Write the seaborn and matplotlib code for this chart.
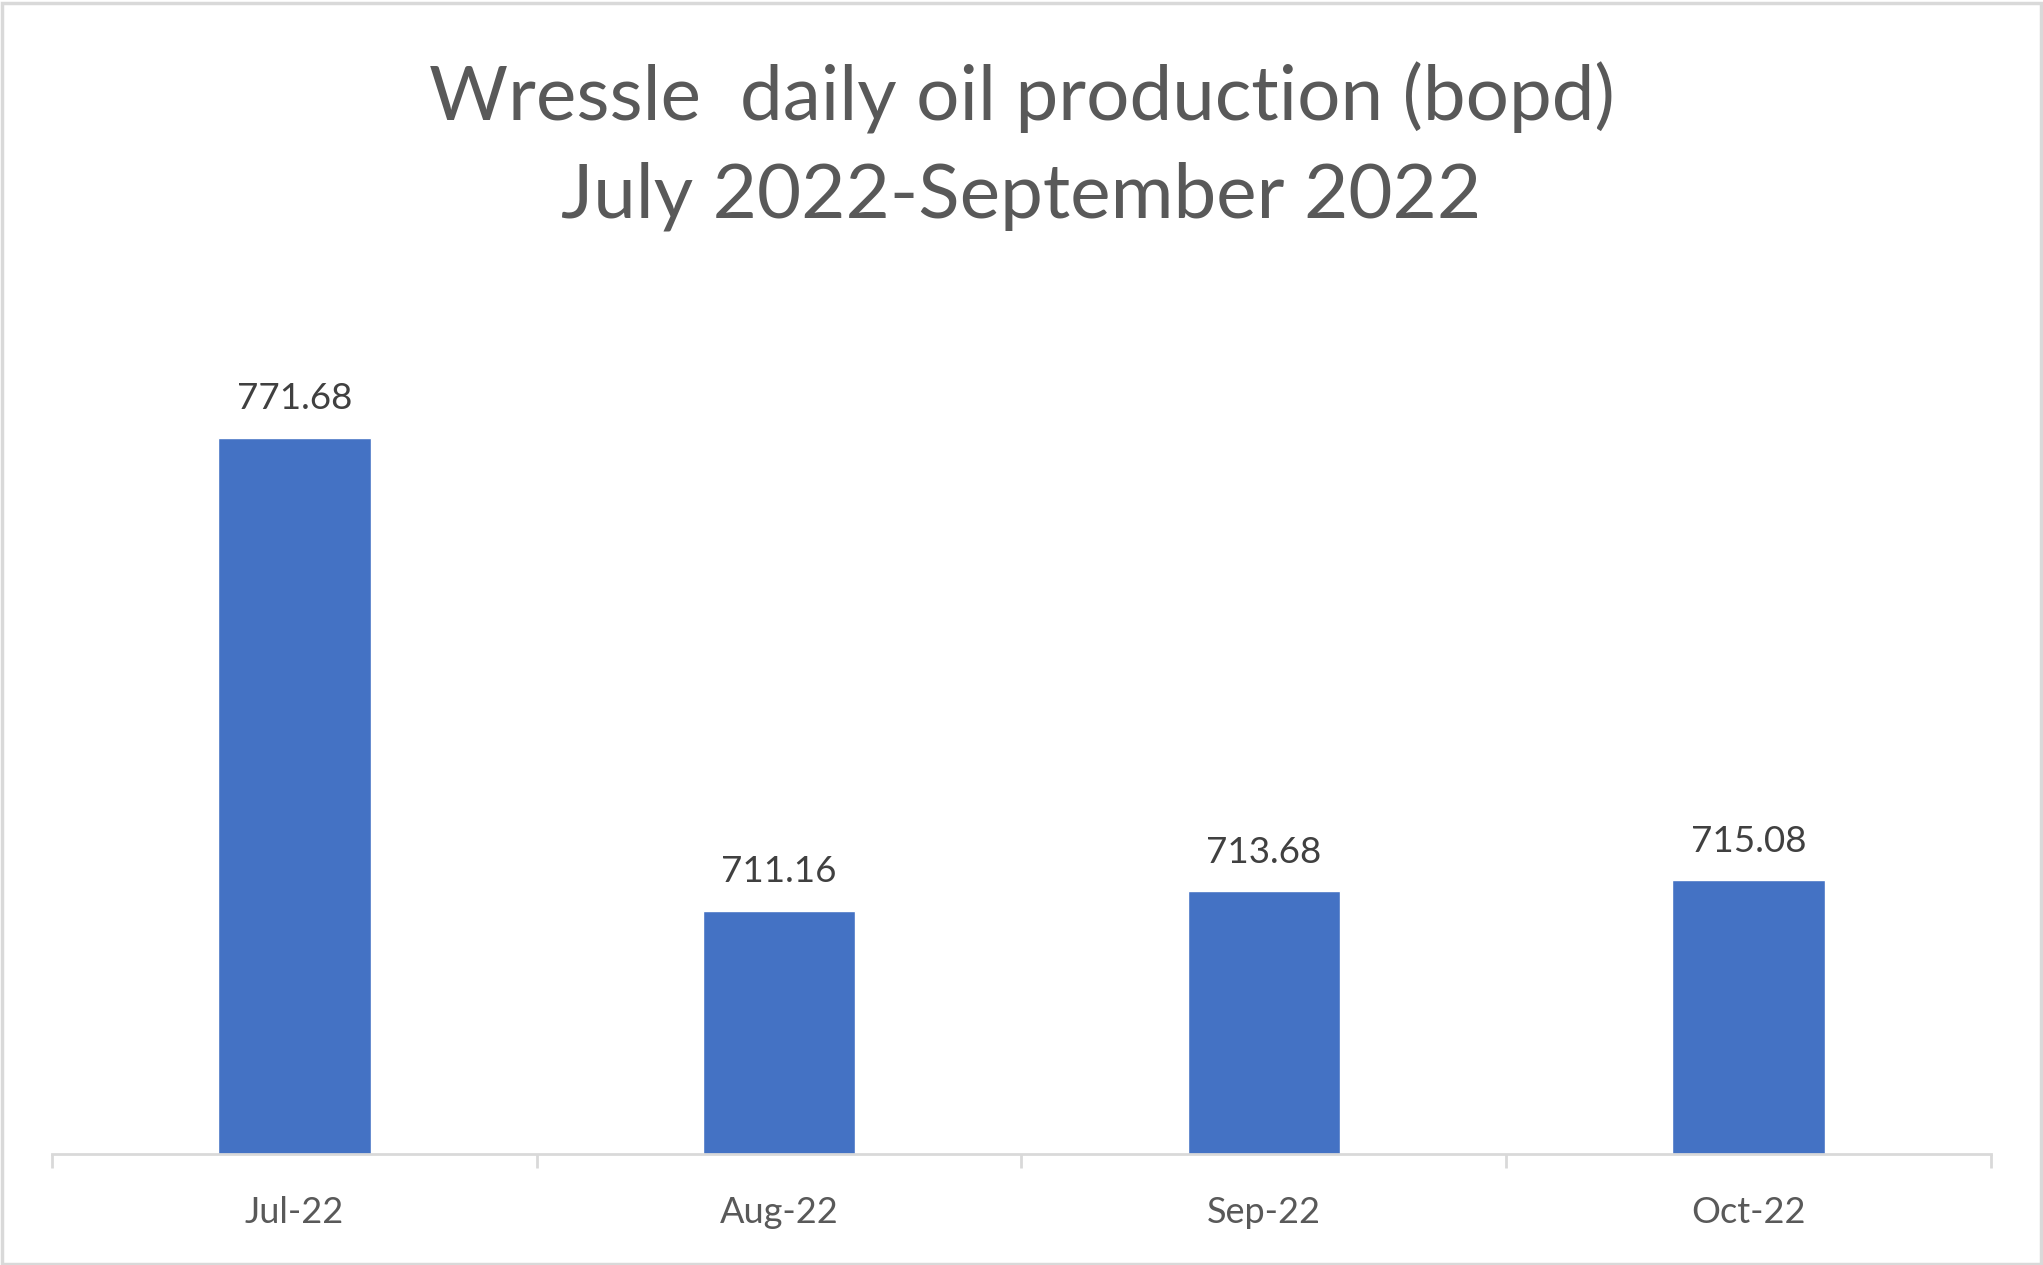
import pandas as pd
import matplotlib
matplotlib.use("Agg")
import matplotlib.pyplot as plt
import seaborn as sns

months = ["Jul-22", "Aug-22", "Sep-22", "Oct-22"]
production = [771.68, 711.16, 713.68, 715.08]
title_lines = ["Wressle  daily oil production (bopd)", "July 2022-September 2022"]

df = pd.DataFrame({"Month": months, "bopd": production})

sns.set_theme(style="white")
plt.rcParams["font.family"] = ["Lato", "DejaVu Sans"]

fig = plt.figure(figsize=(20.43, 12.65), dpi=100)
ax = fig.add_axes([0.0255, 0.0875, 0.949, 0.618])

sns.barplot(data=df, x="Month", y="bopd", color="#4472C4", width=0.315,
            saturation=1, ax=ax)

ax.set_ylim(680, 780)
ax.set_xlim(-0.5, len(months) - 0.5)
ax.set_xlabel("")
ax.set_ylabel("")
ax.set_yticks([])

for s in ["top", "right", "left"]:
    ax.spines[s].set_visible(False)
ax.spines["bottom"].set_color("#D9D9D9")
ax.spines["bottom"].set_linewidth(2)

# tick marks sit between the categories, like excel
ax.set_xticks([i - 0.5 for i in range(len(months) + 1)], minor=True)
ax.tick_params(axis="x", which="minor", length=10, width=2, color="#D9D9D9", bottom=True)
ax.tick_params(axis="x", which="major", length=0, pad=30, labelsize=26, labelcolor="#595959")

# data labels
for i, v in enumerate(production):
    ax.annotate(f"{v:.2f}", (i, v), xytext=(0, 16), textcoords="offset points",
                ha="center", va="bottom", fontsize=26.5, color="#404040")

fig.text(0.5, 0.8844, "\n".join(title_lines), ha="center", va="center",
         fontsize=55, color="#595959", linespacing=1.5)

# light border round the chart
fig.patches.append(plt.Rectangle((0.001, 0.001), 0.998, 0.997, transform=fig.transFigure,
                                 fill=False, edgecolor="#D9D9D9", linewidth=2.5))

fig.savefig("out.png", dpi=100, facecolor="white")
